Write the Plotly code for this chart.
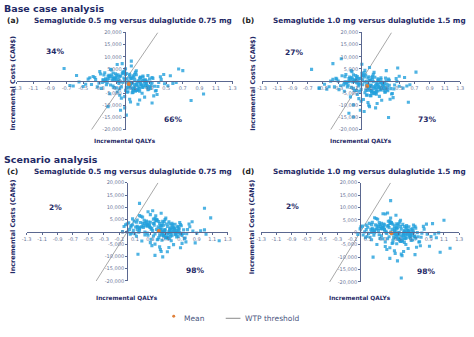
import plotly.graph_objects as go

# Incremental QALYs / incremental costs (CAN$) of the probabilistic runs, per comparison
dq_a = [0.05, -0.12, 0.21, 0.33, -0.28, 0.10, -0.05, 0.18, -0.35, 0.02,
        0.27, -0.18, 0.08, 0.41, -0.42, 0.15, -0.08, 0.24, 0.00, -0.22,
        0.12, 0.36, -0.15, 0.06, -0.31, 0.19, 0.29, -0.02, 0.48, -0.10,
        -0.26, 0.03, 0.22, -0.47, 0.14, 0.31, -0.06, 0.09, -0.19, 0.38,
        0.17, -0.38, 0.26, 0.01, -0.13, 0.44, 0.07, -0.24, 0.20, -0.55,
        0.34, -0.04, 0.11, -0.29, 0.25, 0.52, -0.16, 0.04, 0.30, -0.09,
        -0.62, 0.13, 0.39, -0.21, 0.08, -0.33, 0.23, 0.16, -0.01, 0.58,
        -0.11, 0.28, -0.40, 0.06, 0.35, -0.17, 0.19, -0.50, 0.43, 0.00,
        0.09, -0.25, 0.32, -0.07, 0.14, 0.62, -0.36, 0.21, -0.14, 0.27,
        -0.73, 0.05, 0.47, -0.20, 0.11, -0.03, 0.37, -0.44, 0.18, 0.70,
        0.02, -0.30, 0.24, 0.12, -0.09, 0.40, -0.58, 0.16, 0.95, -0.23,
        0.65, 0.08, -0.05, 0.55, 0.10, -0.66, 0.80, 0.00, 0.33, 0.06,
        -0.02, 0.07, 0.15, -0.10, 0.22, -0.18, 0.04, 0.12, -0.06, 0.28,
        0.09, -0.14, 0.19, 0.01, -0.23, 0.26, 0.06, -0.04, 0.16, -0.27,
        0.11, 0.31, -0.08, 0.03, 0.20, -0.16, 0.13, 0.00, 0.24, -0.11,
        0.08, -0.20, 0.17, 0.05, -0.01, 0.29, -0.13, 0.10, 0.21, -0.07,
        0.14, -0.24, 0.02, 0.18, -0.09, 0.25, 0.07, -0.15, 0.12, 0.33,
        -0.03, 0.16, -0.19, 0.09, 0.23, -0.05, 0.04, 0.27, -0.12, 0.13,
        0.19, -0.21, 0.06, 0.01, 0.15, -0.17, 0.22, 0.10, -0.02, 0.30,
        -0.26, 0.08, 0.18, -0.06, 0.03, 0.25, -0.10, 0.14, 0.05, -0.14]
dc_a = [-1200, 800, -2500, 1500, -3000, 2200, -400, -4200, 600, 3100,
        -1800, -5200, 1000, -600, 1400, -3600, 2600, 300, -6400, -1500,
        2800, -2100, 400, -7500, -900, 1700, -3300, 3800, -1100, -2800,
        500, -4600, 2100, -1300, 4200, -500, -5800, 1200, 2400, -3900,
        -2300, 1900, -800, 5100, -2700, 700, -8600, 3400, -1600, -400,
        1100, -7000, -3100, 2900, -200, -1900, 4600, -4400, 900, 1600,
        -2000, 3600, -5500, -700, 6200, -2400, 200, -9500, 1300, -1000,
        3000, -3500, -1400, 2000, -6100, 4900, -300, -2200, 1800, -11000,
        -4800, 2500, -1700, 600, -3800, -600, 1500, -5000, 3300, -2600,
        5200, -900, 2700, -10500, -2900, 7200, -4100, 800, -7800, 4300,
        -14000, 3900, -6600, -1300, 6800, -2200, 2300, -3700, -5300, 900,
        5000, 8200, -12000, 2200, -4700, -1800, -8000, 4100, -9000, -600,
        -500, 1200, -1800, 300, -2600, 1900, -1300, 700, -3200, 2300,
        -800, -2000, 1500, -3800, 400, -1100, 2800, -2400, 100, -600,
        1700, -3000, -200, 900, -1500, 2500, -4200, 600, -900, 1300,
        -2800, 2000, -400, -1700, 3300, -2200, 800, -3500, 200, -1000,
        2600, -100, -2700, 1100, -4500, 500, -1400, 1800, -2100, -700,
        3000, -3300, 1000, -600, -1900, 2100, -2900, 0, 1400, -3600,
        -1200, 700, -2300, 2700, -800, -1600, 1600, -4000, 3500, -2500,
        400, -1100, -3100, 1900, -500, -2000, 2400, -1400, -300, 1000]

dq_b = [0.10, -0.08, 0.25, 0.36, -0.22, 0.14, -0.02, 0.20, -0.30, 0.06,
        0.31, -0.14, 0.12, 0.44, -0.37, 0.18, -0.05, 0.27, 0.03, -0.18,
        0.15, 0.39, -0.11, 0.09, -0.27, 0.22, 0.32, 0.01, 0.50, -0.06,
        -0.21, 0.07, 0.26, -0.42, 0.17, 0.34, -0.03, 0.12, -0.15, 0.41,
        0.20, -0.33, 0.29, 0.05, -0.09, 0.47, 0.10, -0.20, 0.23, -0.48,
        0.37, 0.00, 0.14, -0.25, 0.28, 0.55, -0.12, 0.08, 0.33, -0.05,
        -0.55, 0.16, 0.42, -0.17, 0.11, -0.29, 0.26, 0.19, 0.02, 0.60,
        -0.07, 0.31, -0.35, 0.09, 0.38, -0.13, 0.22, -0.45, 0.46, 0.04,
        0.12, -0.21, 0.35, -0.04, 0.17, 0.64, -0.32, 0.24, -0.10, 0.30,
        -0.65, 0.08, 0.50, -0.16, 0.14, 0.01, 0.40, -0.40, 0.21, 0.72,
        -0.10, -0.26, 0.27, 0.15, -0.37, 0.43, -0.10, 0.19, 0.33, -0.19,
        0.48, 0.11, -0.01, 0.57, 0.13, -0.55, 0.62, 0.04, 0.36, 0.09,
        0.02, 0.11, 0.19, -0.06, 0.26, -0.14, 0.08, 0.16, -0.02, 0.32,
        0.13, -0.10, 0.23, 0.05, -0.19, 0.30, 0.10, 0.00, 0.20, -0.23,
        0.15, 0.35, -0.04, 0.07, 0.24, -0.12, 0.17, 0.04, 0.28, -0.07,
        0.12, -0.16, 0.21, 0.09, 0.03, 0.33, -0.09, 0.14, 0.25, -0.03,
        0.18, -0.20, 0.06, 0.22, -0.05, 0.29, 0.11, -0.11, 0.16, 0.37,
        0.01, 0.20, -0.15, 0.13, 0.27, -0.01, 0.08, 0.31, -0.08, 0.17,
        0.23, -0.17, 0.10, 0.05, 0.19, -0.13, 0.26, 0.14, 0.02, 0.34,
        -0.22, 0.12, 0.22, -0.02, 0.07, 0.29, -0.06, 0.18, 0.09, -0.10]
dc_b = [-2200, 300, -3500, 800, -4200, 1500, -1200, -5400, 0, 2500,
        -2800, -6500, 200, -1600, 700, -4800, 1900, -600, -7600, -2400,
        2000, -3100, -400, -8800, -1900, 900, -4500, 3200, -2100, -3800,
        -300, -5800, 1400, -2300, 3600, -1400, -7200, 400, 1700, -5100,
        -3300, 1100, -1700, 4400, -3900, -200, -9900, 2700, -2600, -1300,
        300, -8300, -4200, 2200, -1100, -2900, 3900, -5700, 100, 900,
        -3000, 2800, -6800, -1700, 5600, -3500, -700, -11000, 500, -2000,
        2300, -4600, -2400, 1300, -7500, 4300, -1200, -3300, 1000, -12500,
        -6000, 1800, -2700, -300, -5000, -1500, 800, -6300, 2600, -3700,
        4800, -1900, 2000, -13200, -3900, 6900, -5300, 0, -9200, 3700,
        -14800, 9200, -7900, -2300, 7200, -3200, -9800, -4900, 4300, -500,
        5400, -10500, -12000, 1500, -6000, -2800, -8700, 3500, -15000, -1600,
        -1500, 200, -2800, -700, -3600, 900, -2300, -300, -4200, 1300,
        -1800, -3000, 500, -4800, -600, -2100, 1800, -3400, -900, -1600,
        700, -4000, -1200, -100, -2500, 1500, -5200, -400, -1900, 300,
        -3800, 1000, -1400, -2700, 2300, -3200, -200, -4500, -800, -2000,
        1600, -1100, -3700, 100, -5500, -500, -2400, 800, -3100, -1700,
        2000, -4300, 0, -1600, -2900, 1100, -3900, -1000, 400, -4600,
        -2200, -300, -3300, 1700, -1800, -2600, 600, -5000, 2500, -3500,
        -600, -2100, -4100, 900, -1500, -3000, 1400, -2400, -1300, 0]

dq_c = [0.40, 0.24, 0.57, 0.69, 0.12, 0.46, 0.31, 0.55, 0.05, 0.38,
        0.63, 0.19, 0.44, 0.78, -0.02, 0.51, 0.28, 0.60, 0.36, 0.15,
        0.48, 0.73, 0.21, 0.42, 0.08, 0.55, 0.66, 0.34, 0.85, 0.27,
        0.11, 0.39, 0.58, -0.06, 0.50, 0.67, 0.30, 0.45, 0.17, 0.75,
        0.53, 0.00, 0.62, 0.37, 0.23, 0.81, 0.43, 0.13, 0.56, 0.03,
        0.70, 0.32, 0.47, 0.09, 0.61, 0.90, 0.20, 0.40, 0.66, 0.26,
        0.06, 0.49, 0.76, 0.16, 0.44, 0.04, 0.59, 0.52, 0.35, 0.95,
        0.25, 0.64, 0.01, 0.42, 0.71, 0.18, 0.55, 0.10, 0.80, 0.36,
        0.45, 0.12, 0.68, 0.29, 0.50, 1.00, 0.07, 0.57, 0.22, 0.63,
        0.16, 0.41, 0.84, 0.14, 0.47, 0.33, 0.74, -0.04, 0.54, 1.08,
        0.16, 0.07, 0.60, 0.48, 0.27, 0.77, 0.02, 0.52, 1.19, 0.13,
        1.00, 0.44, 0.30, 0.88, 0.46, 0.05, 1.02, 0.36, 0.69, 0.42,
        0.38, 0.47, 0.55, 0.30, 0.62, 0.22, 0.44, 0.52, 0.34, 0.68,
        0.49, 0.26, 0.59, 0.41, 0.17, 0.66, 0.46, 0.36, 0.56, 0.13,
        0.51, 0.71, 0.32, 0.43, 0.60, 0.24, 0.53, 0.40, 0.64, 0.29,
        0.48, 0.20, 0.57, 0.45, 0.39, 0.69, 0.27, 0.50, 0.61, 0.33,
        0.54, 0.16, 0.42, 0.58, 0.31, 0.65, 0.47, 0.25, 0.52, 0.73,
        0.37, 0.56, 0.21, 0.49, 0.63, 0.35, 0.44, 0.67, 0.28, 0.53,
        0.59, 0.19, 0.46, 0.41, 0.55, 0.23, 0.62, 0.50, 0.38, 0.70,
        0.14, 0.48, 0.58, 0.34, 0.43, 0.65, 0.30, 0.54, 0.45, 0.26]
dc_c = [300, 2400, -1000, 3000, -1800, 3600, 1100, -2800, 2000, 4500,
        -400, -3700, 2600, 900, 2900, -2200, 4000, 1700, -5000, -100,
        4200, -700, 1800, -6100, 600, 3200, -1900, 5200, 300, -1400,
        2000, -3200, 3500, 100, 5600, 1000, -4400, 2600, 3800, -2500,
        -900, 3300, 700, 6500, -1300, 2100, -7200, 4800, -200, 1000,
        2500, -5600, -1700, 4300, 1200, -500, 6000, -3000, 2300, 3000,
        -600, 5000, -4100, 700, 7600, -1000, 1600, -8100, 2700, 400,
        4400, -2100, 0, 3400, -4700, 6300, 1100, -800, 3200, -9600,
        -3400, 3900, -300, 2000, -2400, 800, 2900, -3600, 4700, -1200,
        6600, 500, 4100, -9100, -1500, 8600, -2700, 2200, -6400, 5700,
        11600, 5300, -5200, 100, 8200, -800, 3700, -2300, -3600, 2300,
        9600, -8000, 7000, -4500, -10200, 2600, -1000, 5500, -6500, 1200,
        1000, 2700, -300, 1800, -1100, 3400, 200, 2200, -1700, 3800,
        700, -500, 3000, -2300, 1900, 400, 4300, -900, 1600, 900,
        3200, -1500, 1300, 2400, 0, 4000, -2700, 2100, 600, 2800,
        -1300, 3500, 1100, -200, 4800, -700, 2300, -2000, 1700, 500,
        4100, 1400, -1200, 2600, -3000, 2000, 100, 3300, -600, 800,
        4500, -1800, 2500, 900, -400, 3600, -1400, 1500, 2900, -2100,
        300, 2200, -800, 4200, 700, -100, 3100, -2500, 5000, -1000,
        1900, 400, -1600, 3400, 1000, -500, 3900, 100, 1200, 2500]

dq_d = [0.43, 0.27, 0.60, 0.72, 0.15, 0.49, 0.34, 0.58, 0.08, 0.41,
        0.66, 0.22, 0.47, 0.81, 0.01, 0.54, 0.31, 0.63, 0.39, 0.18,
        0.51, 0.76, 0.24, 0.45, 0.11, 0.58, 0.69, 0.37, 0.88, 0.30,
        0.14, 0.42, 0.61, -0.03, 0.53, 0.70, 0.33, 0.48, 0.20, 0.78,
        0.56, 0.03, 0.65, 0.40, 0.26, 0.84, 0.46, 0.16, 0.59, 0.06,
        0.73, 0.35, 0.50, 0.12, 0.64, 0.93, 0.23, 0.43, 0.69, 0.29,
        0.09, 0.52, 0.79, 0.19, 0.47, 0.07, 0.62, 0.55, 0.38, 0.98,
        0.28, 0.67, 0.04, 0.45, 0.74, 0.21, 0.58, 0.13, 0.83, 0.39,
        0.48, 0.15, 0.71, 0.32, 0.53, 1.03, 0.10, 0.60, 0.25, 0.66,
        0.19, 0.44, 0.87, 0.17, 0.50, 0.36, 0.77, 0.00, 0.57, 1.10,
        0.40, 0.54, 0.63, 0.51, 0.30, 0.80, 1.05, 0.55, 1.18, 0.16,
        0.95, 0.54, 0.33, 0.91, 0.49, 0.08, 1.00, 0.39, 0.72, 0.45,
        0.40, 0.49, 0.57, 0.32, 0.64, 0.24, 0.46, 0.54, 0.36, 0.70,
        0.51, 0.28, 0.61, 0.43, 0.19, 0.68, 0.48, 0.38, 0.58, 0.15,
        0.53, 0.73, 0.34, 0.45, 0.62, 0.26, 0.55, 0.42, 0.66, 0.31,
        0.50, 0.22, 0.59, 0.47, 0.41, 0.71, 0.29, 0.52, 0.63, 0.35,
        0.56, 0.18, 0.44, 0.60, 0.33, 0.67, 0.49, 0.27, 0.54, 0.75,
        0.39, 0.58, 0.23, 0.51, 0.65, 0.37, 0.46, 0.69, 0.30, 0.55,
        0.61, 0.21, 0.48, 0.43, 0.57, 0.25, 0.64, 0.52, 0.40, 0.72,
        0.16, 0.50, 0.60, 0.36, 0.45, 0.67, 0.32, 0.56, 0.47, 0.28]
dc_d = [-600, 1500, -2200, 2400, -3000, 2900, -100, -4100, 1100, 3700,
        -1500, -4900, 1700, -300, 2200, -3400, 3300, 600, -6200, -1200,
        3400, -1800, 800, -7400, -400, 2300, -3100, 4500, -700, -2600,
        1200, -4500, 2700, -900, 4900, 100, -5700, 1700, 3000, -3800,
        -2000, 2500, -300, 5800, -2500, 1300, -8500, 4000, -1300, 200,
        1700, -6900, -2800, 3600, 400, -1700, 5300, -4200, 1500, 2200,
        -1700, 4200, -5400, -100, 6900, -2200, 800, -9400, 1900, -600,
        3600, -3300, -1100, 2600, -6000, 5600, 200, -2000, 2400, -10500,
        -4600, 3100, -1500, 1200, -3700, -200, 2100, -4900, 3900, -2400,
        5900, -500, 3300, -10000, -2700, 7800, -3900, 1400, -7700, 4900,
        12800, -8800, -6500, -1000, 7500, -2000, -8000, -3500, -6400, 1600,
        3500, -18400, 7400, -5600, -11500, 2900, -2200, 4700, -9000, 600,
        100, 1800, -1200, 900, -2000, 2500, -700, 1300, -2600, 2900,
        -200, -1400, 2100, -3200, 1000, -500, 3400, -1800, 700, 0,
        2300, -2400, 400, 1500, -900, 3100, -3600, 1200, -300, 1900,
        -2200, 2600, 200, -1100, 3900, -1600, 1400, -2900, 800, -400,
        3200, 500, -2100, 1700, -3900, 1100, -800, 2400, -1500, -100,
        3600, -2700, 1600, 0, -1300, 2700, -2300, 600, 2000, -3000,
        -600, 1300, -1700, 3300, -200, -1000, 2200, -3400, 4100, -1900,
        1000, -500, -2500, 2500, 100, -1400, 3000, -800, 300, 1600]

# Mean incremental QALYs / costs
mean_q = [0.05, 0.08, 0.41, 0.41]
mean_c = [-1200, -2000, 300, -400]

# Share of runs above / below the WTP threshold line
pct_upper = ["34%", "27%", "2%", "2%"]
pct_lower = ["66%", "73%", "98%", "98%"]
pct_upper_pos = [(-0.84, 12000), (-0.88, 11600), (-0.92, 10000), (-0.89, 10400)]
pct_lower_pos = [(0.58, -15600), (0.87, -16000), (0.88, -15600), (0.86, -15600)]

wtp = 50000  # CAN$ per QALY

panel_letters = ["(a)", "(b)", "(c)", "(d)"]
panel_titles = ["Semaglutide 0.5 mg versus dulaglutide 0.75 mg",
                "Semaglutide 1.0 mg versus dulaglutide 1.5 mg",
                "Semaglutide 0.5 mg versus dulaglutide 0.75 mg",
                "Semaglutide 1.0 mg versus dulaglutide 1.5 mg"]
section_titles = ["Base case analysis", "Scenario analysis"]

x_ticks = [-1.3, -1.1, -0.9, -0.7, -0.5, -0.3, -0.1, 0.1, 0.3, 0.5, 0.7, 0.9, 1.1, 1.3]
y_ticks = [20000, 15000, 10000, 5000, 0, -5000, -10000, -15000, -20000]

xs = [dq_a, dq_b, dq_c, dq_d]
ys = [dc_a, dc_b, dc_c, dc_d]

W, H = 474, 337
FONT = "DejaVu Sans"
NAVY = "#1f2a66"
AXIS = "#5b6890"
TICK = "#6a7698"
DOT = "rgba(35,160,220,0.8)"
MEAN = "#e0803a"
WTP_COL = "#a8a8a8"

# plot boxes in pixels: left, right, top, bottom
boxes = [(12, 232, 30, 129), (262, 464, 30, 129),
         (22, 227, 183, 283), (261, 463, 183, 284)]


def px(x):
    return x / W


def py(y):
    return 1 - y / H


fig = go.Figure()
annotations = []
shapes = []

for i in range(4):
    xa = "x" if i == 0 else f"x{i+1}"
    ya = "y" if i == 0 else f"y{i+1}"
    l, r, t, b = boxes[i]
    xdom = [px(l), px(r)]
    ydom = [py(b), py(t)]

    fig.add_trace(go.Scatter(
        x=[c / wtp for c in (-20000, 20000)], y=[-20000, 20000],
        mode="lines", line=dict(color=WTP_COL, width=1),
        xaxis=xa, yaxis=ya, showlegend=False, hoverinfo="skip"))
    fig.add_trace(go.Scatter(
        x=xs[i], y=ys[i], mode="markers",
        marker=dict(symbol="square", size=3.1, color=DOT, line=dict(width=0)),
        xaxis=xa, yaxis=ya, showlegend=False))
    fig.add_trace(go.Scatter(
        x=[mean_q[i]], y=[mean_c[i]], mode="markers",
        marker=dict(size=4, color=MEAN, line=dict(width=0)),
        xaxis=xa, yaxis=ya, showlegend=False))

    axis_common = dict(showgrid=False, zeroline=False, showline=True,
                       linecolor=AXIS, linewidth=1, ticks="outside", ticklen=2,
                       tickcolor=AXIS, tickfont=dict(family=FONT, size=5, color=TICK),
                       anchor="free", fixedrange=True)
    fig.update_layout({
        ("xaxis" if i == 0 else f"xaxis{i+1}"): dict(
            domain=xdom, range=[-1.3, 1.3], position=sum(ydom) / 2,
            tickvals=x_ticks, ticktext=[f"{v:g}" for v in x_ticks], **axis_common),
        ("yaxis" if i == 0 else f"yaxis{i+1}"): dict(
            domain=ydom, range=[-20000, 20000], position=sum(xdom) / 2,
            tickvals=y_ticks, ticktext=[f"{v:,}" for v in y_ticks], **axis_common),
    })

    annotations.append(dict(x=pct_upper_pos[i][0], y=pct_upper_pos[i][1], xref=xa, yref=ya,
                            text=f"<b>{pct_upper[i]}</b>", showarrow=False,
                            font=dict(family=FONT, size=7.5, color=NAVY)))
    annotations.append(dict(x=pct_lower_pos[i][0], y=pct_lower_pos[i][1], xref=xa, yref=ya,
                            text=f"<b>{pct_lower[i]}</b>", showarrow=False,
                            font=dict(family=FONT, size=7.5, color=NAVY)))

    # panel letter and title
    row_top = 18 if i < 2 else 172
    annotations.append(dict(x=px(0 if i % 2 == 0 else 240), y=py(row_top), xref="paper", yref="paper",
                            xanchor="left", yanchor="middle", showarrow=False,
                            text=f"<b>{panel_letters[i]}</b>",
                            font=dict(family=FONT, size=7.5, color="#222222")))
    annotations.append(dict(x=px(28 if i % 2 == 0 else 271), y=py(row_top), xref="paper", yref="paper",
                            xanchor="left", yanchor="middle", showarrow=False,
                            text=f"<b>{panel_titles[i]}</b>",
                            font=dict(family=FONT, size=7.3, color=NAVY)))

    # axis titles
    annotations.append(dict(x=sum(xdom) / 2, y=py(140 if i < 2 else 300), xref="paper", yref="paper",
                            xanchor="center", yanchor="middle",
                            showarrow=False, text="<b>Incremental QALYs</b>",
                            font=dict(family=FONT, size=5.8, color=NAVY)))
    annotations.append(dict(x=px(8 if i % 2 == 0 else 252), y=py(82 if i < 2 else 228),
                            xref="paper", yref="paper", xanchor="center", yanchor="middle",
                            showarrow=False, textangle=-90,
                            text="<b>Incremental Costs (CAN$)</b>",
                            font=dict(family=FONT, size=6.5, color=NAVY)))

# section headings
for title, ypix in zip(section_titles, [6, 159]):
    annotations.append(dict(x=0, y=py(ypix), xref="paper", yref="paper",
                            xanchor="left", yanchor="middle", showarrow=False, xshift=-3,
                            text=f"<b>{title}</b>",
                            font=dict(family=FONT, size=9.5, color=NAVY)))

# legend
shapes.append(dict(type="circle", xref="paper", yref="paper",
                   x0=px(170.5), x1=px(173.5), y0=py(320.5), y1=py(317.5),
                   fillcolor=MEAN, line=dict(width=0)))
annotations.append(dict(x=px(180), y=py(321), xref="paper", yref="paper",
                        xanchor="left", yanchor="middle", showarrow=False, text="Mean",
                        font=dict(family=FONT, size=7.5, color="#4a5680")))
shapes.append(dict(type="line", xref="paper", yref="paper",
                   x0=px(225), x1=px(240), y0=py(321), y1=py(321),
                   line=dict(color="#8a8a8a", width=1)))
annotations.append(dict(x=px(243), y=py(321), xref="paper", yref="paper",
                        xanchor="left", yanchor="middle", showarrow=False, text="WTP threshold",
                        font=dict(family=FONT, size=7.5, color="#4a5680")))

fig.update_layout(width=W, height=H, margin=dict(l=0, r=0, t=0, b=0),
                  paper_bgcolor="white", plot_bgcolor="white",
                  annotations=annotations, shapes=shapes, showlegend=False)

fig.write_html("out.html")
